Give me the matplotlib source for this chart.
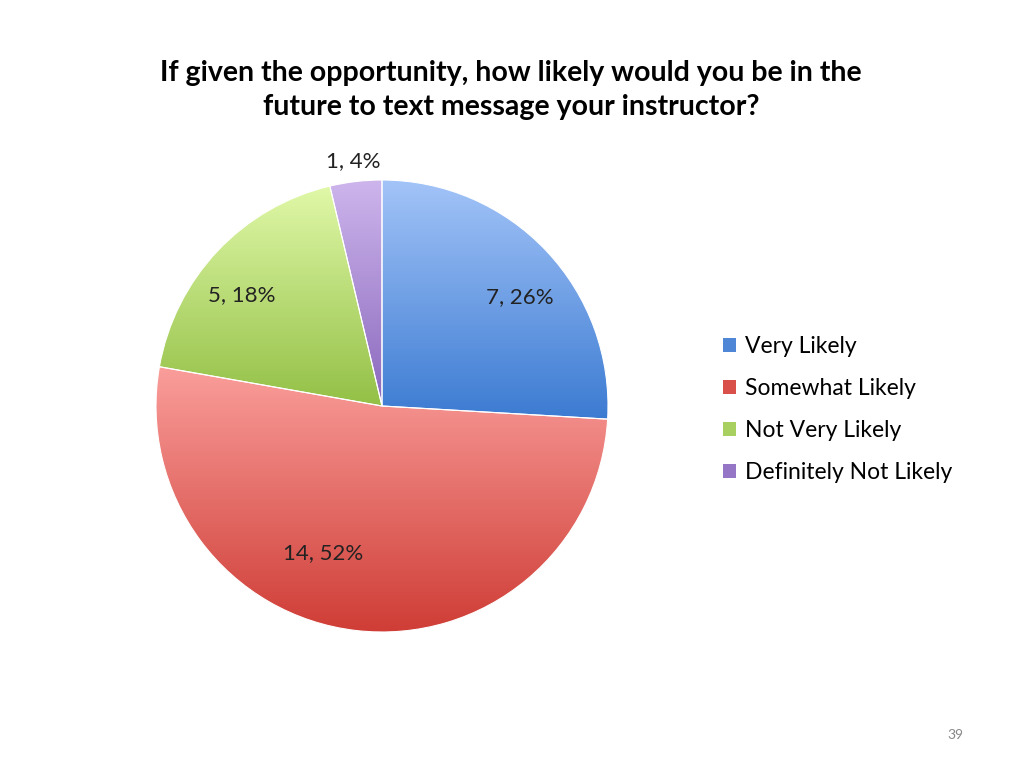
import numpy as np
import matplotlib
matplotlib.use("Agg")
import matplotlib.pyplot as plt
from matplotlib.colors import LinearSegmentedColormap
from matplotlib.patches import Patch

plt.rcParams['font.family'] = ['Lato', 'DejaVu Sans']

# data
categories = ['Very Likely', 'Somewhat Likely', 'Not Very Likely', 'Definitely Not Likely']
counts = [7, 14, 5, 1]
percents = [26, 52, 18, 4]

# colours (top of slice -> bottom of slice)
tops = ['#a3c4f8', '#fa9e9b', '#e0f8a8', '#cdb5ec']
bottoms = ['#3c7bd2', '#cf3d36', '#93c046', '#8a68bd']
solid = ['#4f87d6', '#d9504b', '#a8d060', '#9475c6']

# label placement tweaks: radius factor, angle offset (deg)
lab_r = [0.78, 0.70, 0.79, 1.09]
lab_da = [-5, -15, 5, 0]

fig = plt.figure(figsize=(10.24, 7.68), dpi=100)
ax = fig.add_axes([156 / 1024, 136 / 768, 452 / 1024, 452 / 768])

wedges, _ = ax.pie(counts, startangle=90, counterclock=False, radius=1,
                   colors=solid, wedgeprops=dict(linewidth=0.8, edgecolor='white'))

grad = np.linspace(0, 1, 256).reshape(-1, 1)
for w, c0, c1 in zip(wedges, tops, bottoms):
    bb = w.get_path().get_extents()
    cmap = LinearSegmentedColormap.from_list('g', [c0, c1])
    im = ax.imshow(grad, cmap=cmap, aspect='auto', origin='upper',
                   extent=[bb.x0, bb.x1, bb.y0, bb.y1], zorder=w.get_zorder())
    im.set_clip_path(w)
    w.set_facecolor('none')
    w.set_zorder(im.get_zorder() + 0.1)

for w, n, p, r, da in zip(wedges, counts, percents, lab_r, lab_da):
    ang = np.deg2rad((w.theta1 + w.theta2) / 2 + da)
    ax.text(r * np.cos(ang), r * np.sin(ang), f'{n}, {p}%', ha='center', va='center',
            fontsize=16, color='#222222')

ax.set_xlim(-1, 1)
ax.set_ylim(-1, 1)
ax.set_aspect('equal')
ax.axis('off')

fig.text(511 / 1024, 1 - 90 / 768,
         'If given the opportunity, how likely would you be in the\nfuture to text message your instructor?',
         ha='center', va='center', fontsize=20.5, fontweight='bold', linespacing=1.42)

handles = [Patch(facecolor=c, edgecolor='none') for c in solid]
fig.legend(handles, categories, loc='upper left', bbox_to_anchor=(714 / 1024, 1 - 327 / 768),
           frameon=False, fontsize=16.5, handlelength=0.55, handleheight=0.55,
           handletextpad=0.4, labelspacing=0.92, borderaxespad=0)

fig.text(955 / 1024, 1 - 735 / 768, '39', ha='center', va='center', fontsize=10, color='#888888')

fig.savefig('out.png', dpi=100)
